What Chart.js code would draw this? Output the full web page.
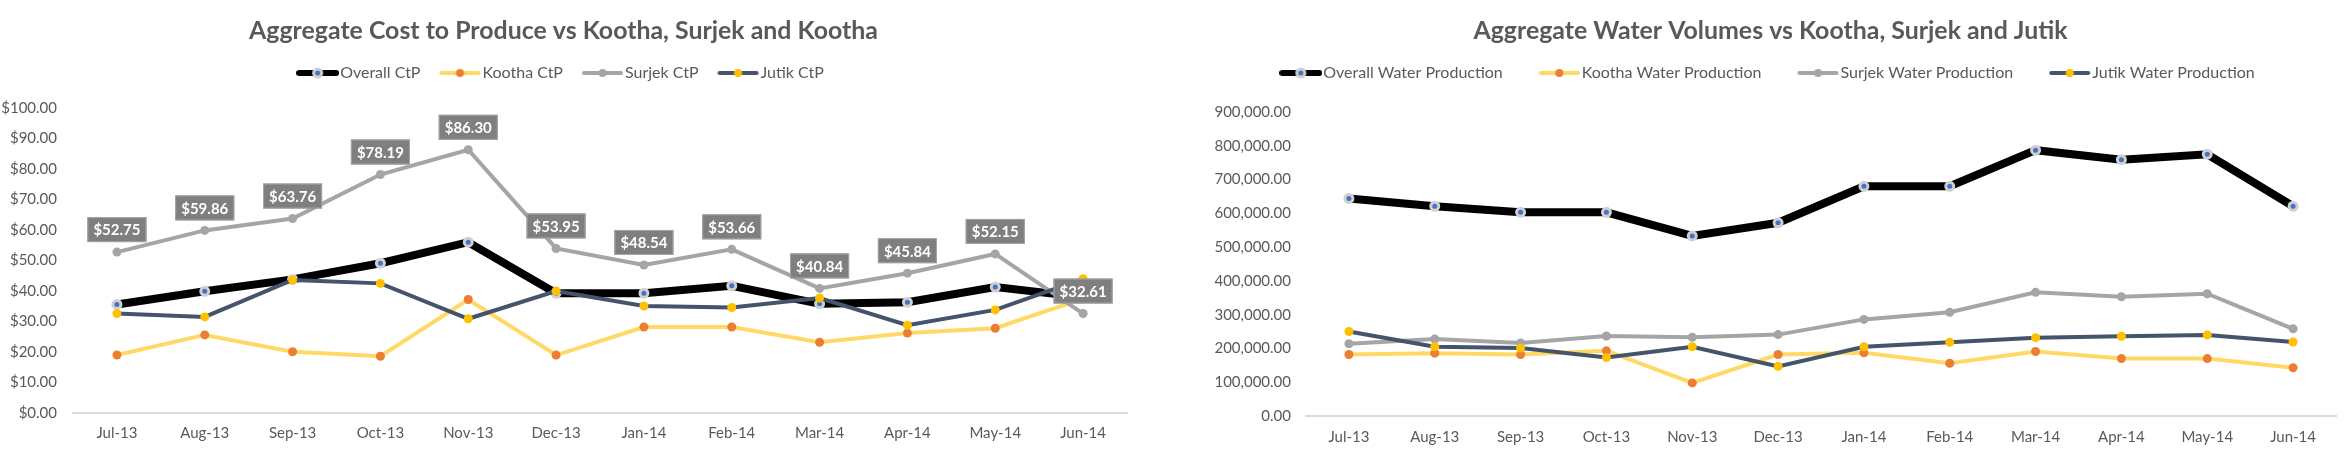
<!DOCTYPE html>
<html>
<head>
<meta charset="utf-8">
<script src="https://cdn.jsdelivr.net/npm/chart.js@4.4.1/dist/chart.umd.min.js"></script>
<style>
  html, body { margin: 0; padding: 0; background: #fff; }
  body { width: 2351px; height: 468px; position: relative; overflow: hidden; }
  canvas { position: absolute; top: 0; }
  #costChart { left: 0; }
  #waterChart { left: 1205px; }
</style>
</head>
<body>
<canvas id="costChart" width="1135" height="468"></canvas>
<canvas id="waterChart" width="1146" height="468"></canvas>
<script>
const months = ['Jul-13', 'Aug-13', 'Sep-13', 'Oct-13', 'Nov-13', 'Dec-13', 'Jan-14', 'Feb-14', 'Mar-14', 'Apr-14', 'May-14', 'Jun-14'];

// cost to produce, $ per unit
const overallCtp = [35.6, 39.9, 43.8, 49.1, 56.0, 39.3, 39.3, 41.7, 35.8, 36.3, 41.3, 38.0];
const koothaCtp  = [19.0, 25.6, 20.1, 18.6, 37.2, 19.0, 28.2, 28.2, 23.2, 26.2, 27.8, 37.5];
const surjekCtp  = [52.75, 59.86, 63.76, 78.19, 86.30, 53.95, 48.54, 53.66, 40.84, 45.84, 52.15, 32.61];
const jutikCtp   = [32.6, 31.5, 43.6, 42.5, 30.9, 40.0, 35.1, 34.6, 37.7, 28.8, 33.8, 44.0];

// water volumes
const overallWater = [644000, 621000, 603000, 603000, 533000, 572000, 680000, 680000, 787000, 759000, 775000, 621000];
const koothaWater  = [182000, 186000, 182000, 193000, 98000, 182000, 187000, 156000, 191000, 170000, 170000, 143000];
const surjekWater  = [214000, 228000, 216000, 237000, 233000, 241000, 286000, 307000, 366000, 353000, 362000, 258000];
const jutikWater   = [250000, 205000, 201000, 173000, 205000, 147000, 205000, 218000, 232000, 236000, 240000, 219000];

const FONT = 'Lato, "Open Sans", sans-serif';
const TEXT = '#595959';
const LEGEND_SIZE = 16;

// pick the title size so the first title is about 629px wide
const costTitle = 'Aggregate Cost to Produce vs Kootha, Surjek and Kootha';
const waterTitle = 'Aggregate Water Volumes vs Kootha, Surjek and Jutik';
const probe = document.createElement('canvas').getContext('2d');
probe.font = 'bold 100px ' + FONT;
const titleSize = Math.round(100 * 629 / probe.measureText(costTitle).width * 10) / 10;

// little line+marker picture for the legend
function legendIcon(lineColor, lineWidth, fill, ring) {
    const c = document.createElement('canvas');
    c.width = 43; c.height = 14;
    const g = c.getContext('2d');
    g.strokeStyle = lineColor;
    g.lineWidth = lineWidth;
    g.lineCap = 'round';
    g.beginPath(); g.moveTo(3, 7); g.lineTo(40, 7); g.stroke();
    g.beginPath(); g.arc(21.5, 7, 4, 0, Math.PI * 2);
    g.fillStyle = fill; g.fill();
    if (ring) { g.lineWidth = 3; g.strokeStyle = ring; g.stroke(); }
    return c;
}

function makeSeries(label, data, line, width, marker, ring, order) {
    return {
        label: label,
        data: data,
        borderColor: line,
        borderWidth: width,
        pointRadius: ring ? 4 : 4.5,
        pointHoverRadius: ring ? 4 : 4.5,
        pointBackgroundColor: marker,
        pointBorderColor: ring || marker,
        pointBorderWidth: ring ? 3 : 0,
        tension: 0,
        fill: false,
        order: order,
        icon: legendIcon(line, width > 5 ? 6 : 4, marker, ring)
    };
}

// legend box height is forced so the plot top lands where it should
const legendGap = {
    id: 'legendGap',
    beforeInit(chart, args, opts) {
        const fit = chart.legend.fit;
        chart.legend.fit = function () {
            fit.bind(chart.legend)();
            if (opts.height) this.height = opts.height;
        };
    }
};

// grey boxes with white values above the Surjek line
const valueBoxes = {
    id: 'valueBoxes',
    afterDatasetsDraw(chart, args, opts) {
        if (opts.index == null) return;
        const ctx = chart.ctx;
        const meta = chart.getDatasetMeta(opts.index);
        const vals = chart.data.datasets[opts.index].data;
        ctx.save();
        ctx.font = 'bold 15px ' + FONT;
        ctx.textAlign = 'center';
        ctx.textBaseline = 'middle';
        meta.data.forEach(function (pt, i) {
            const txt = '$' + vals[i].toFixed(2);
            const w = ctx.measureText(txt).width + 12;
            const h = 25;
            const bx = pt.x - w / 2;
            const by = pt.y - 10 - h;
            ctx.fillStyle = '#7f7f7f';
            ctx.strokeStyle = '#a6a6a6';
            ctx.lineWidth = 1;
            ctx.fillRect(bx, by, w, h);
            ctx.strokeRect(bx + 0.5, by + 0.5, w - 1, h - 1);
            ctx.fillStyle = '#ffffff';
            ctx.fillText(txt, pt.x, by + h / 2 + 1);
        });
        ctx.restore();
    }
};

function buildChart(id, opts) {
    const canvas = document.getElementById(id);
    // legend row centre = legendTop + padding + size/2 = 73, title centre = 31
    const legendTop = 73 - opts.legendPad - LEGEND_SIZE / 2;
    const titleTop = 31 - 0.6 * titleSize;
    const titleBottom = legendTop - titleTop - 1.2 * titleSize;
    return new Chart(canvas.getContext('2d'), {
        type: 'line',
        data: { labels: months, datasets: opts.datasets },
        options: {
            responsive: false,
            animation: false,
            devicePixelRatio: 1,
            layout: { padding: { left: 0, right: opts.padRight, top: 0, bottom: 0 } },
            plugins: {
                title: {
                    display: true,
                    text: opts.title,
                    color: TEXT,
                    font: { family: FONT, size: titleSize, weight: 'bold', lineHeight: 1.2 },
                    padding: { top: titleTop, bottom: titleBottom }
                },
                legend: {
                    display: true,
                    labels: {
                        color: TEXT,
                        font: { family: FONT, size: LEGEND_SIZE },
                        usePointStyle: true,
                        pointStyleWidth: 29,
                        boxHeight: LEGEND_SIZE,
                        padding: opts.legendPad,
                        generateLabels: function (chart) {
                            return chart.data.datasets.map(function (ds, i) {
                                return {
                                    text: ds.label,
                                    datasetIndex: i,
                                    pointStyle: ds.icon,
                                    fontColor: TEXT,
                                    hidden: false,
                                    lineWidth: 0,
                                    strokeStyle: 'transparent',
                                    fillStyle: 'transparent'
                                };
                            });
                        }
                    }
                },
                tooltip: { enabled: false },
                legendGap: { height: opts.plotTop - legendTop },
                valueBoxes: { index: opts.boxIndex }
            },
            scales: {
                x: {
                    type: 'category',
                    offset: true,
                    grid: { display: false, drawTicks: false },
                    border: { display: true, color: '#d9d9d9', width: 2 },
                    ticks: {
                        color: TEXT,
                        font: { family: FONT, size: 15 },
                        padding: opts.xPad,
                        maxRotation: 0,
                        autoSkip: false
                    },
                    afterFit: function (scale) { scale.height = opts.xHeight; }
                },
                y: {
                    min: 0,
                    max: opts.yMax,
                    grid: { display: false, drawTicks: false },
                    border: { display: false },
                    ticks: {
                        stepSize: opts.yStep,
                        color: TEXT,
                        font: { family: FONT, size: 15 },
                        padding: opts.yPad,
                        callback: opts.fmt
                    },
                    afterFit: function (scale) { scale.width = opts.yWidth; }
                }
            }
        },
        plugins: [legendGap, valueBoxes]
    });
}

buildChart('costChart', {
    title: costTitle,
    datasets: [
        makeSeries('Overall CtP', overallCtp, '#000000', 8, '#4472c4', '#d0d0d0', 3),
        makeSeries('Kootha CtP', koothaCtp, '#ffd966', 4, '#ed7d31', null, 2),
        makeSeries('Surjek CtP', surjekCtp, '#a5a5a5', 4, '#a5a5a5', null, 1),
        makeSeries('Jutik CtP', jutikCtp, '#44546a', 4, '#ffc000', null, 0)
    ],
    yMax: 100, yStep: 10,
    fmt: function (v) { return '$' + Number(v).toFixed(2); },
    yWidth: 73, yPad: 16, padRight: 8,
    xHeight: 55, xPad: 11,
    legendPad: 25, plotTop: 108,
    boxIndex: 2
});

buildChart('waterChart', {
    title: waterTitle,
    datasets: [
        makeSeries('Overall Water Production', overallWater, '#000000', 8, '#4472c4', '#d0d0d0', 3),
        makeSeries('Kootha Water Production', koothaWater, '#ffd966', 4, '#ed7d31', null, 2),
        makeSeries('Surjek Water Production', surjekWater, '#a5a5a5', 4, '#a5a5a5', null, 1),
        makeSeries('Jutik Water Production', jutikWater, '#44546a', 4, '#ffc000', null, 0)
    ],
    yMax: 900000, yStep: 100000,
    fmt: function (v) { return Number(v).toLocaleString('en-US', { minimumFractionDigits: 2, maximumFractionDigits: 2 }); },
    yWidth: 101, yPad: 15, padRight: 15,
    xHeight: 52, xPad: 12,
    legendPad: 42, plotTop: 112,
    boxIndex: null
});
</script>
</body>
</html>
